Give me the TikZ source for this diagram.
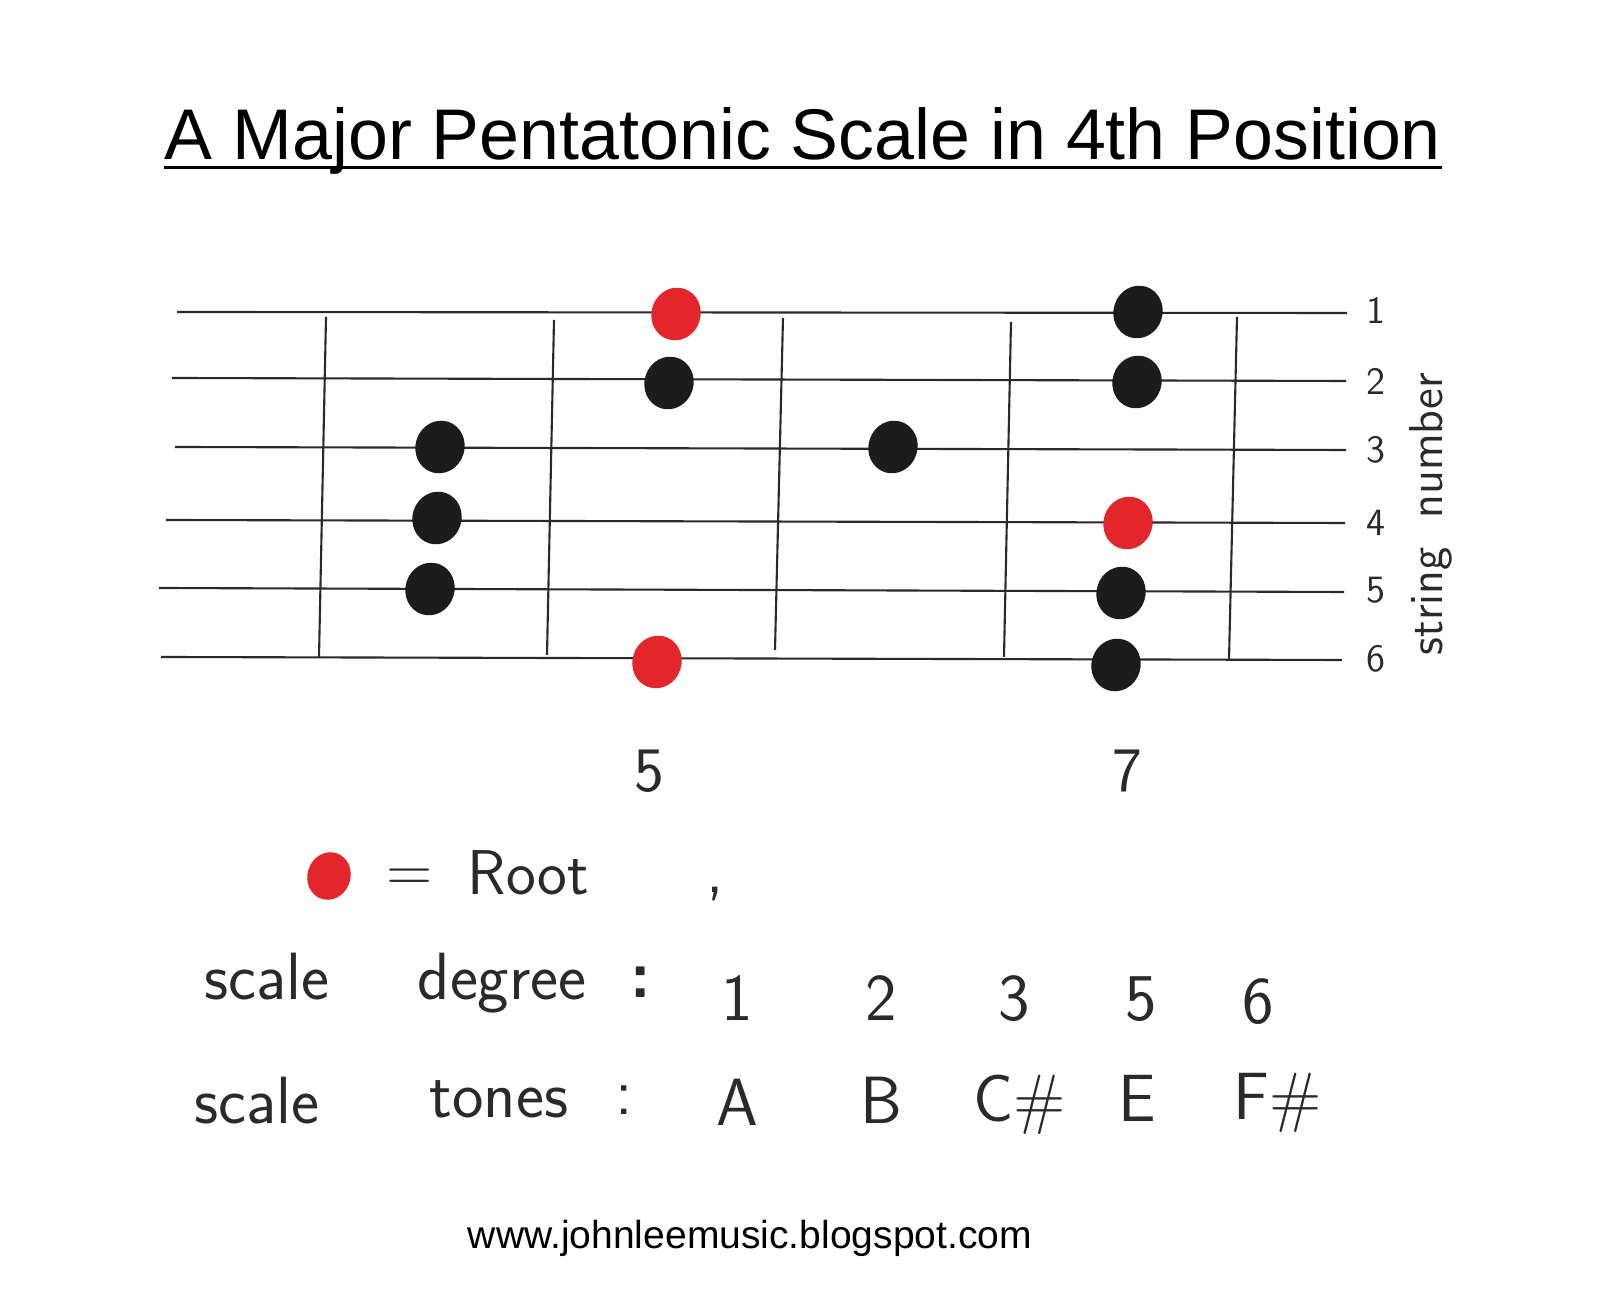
\documentclass[tikz,border=0pt]{standalone}
\usepackage{fontspec}
\setmainfont{Liberation Sans}
\usetikzlibrary{shapes.geometric,calc}
\definecolor{ink}{HTML}{2A2A2A}
\definecolor{rootred}{HTML}{E3262B}
\definecolor{dotblack}{HTML}{1C1C1C}
\begin{document}
\begin{tikzpicture}[x=0.01cm,y=-0.01cm,
  strline/.style={draw=ink,line width=0.6pt},
  fretline/.style={draw=ink,line width=0.6pt},
  notedot/.style={ellipse,inner sep=0pt,minimum width=0.49cm,minimum height=0.53cm,rotate=-18},
  blackdot/.style={notedot,fill=dotblack},
  reddot/.style={notedot,fill=rootred},
  hand/.style={inner sep=0pt,text=ink,font=\sffamily\fontsize{19}{19}\selectfont},
  snum/.style={inner sep=0pt,text=ink,font=\sffamily\fontsize{11}{11}\selectfont},
  printed/.style={inner sep=0pt,text=black}]
\useasboundingbox[fill=white] (0,0) rectangle (1620,1292);

% title
\node[printed,anchor=base,font=\fontsize{20.4}{24}\selectfont] (title) at (803,160) {A Major Pentatonic Scale in 4th Position};
\draw[line width=0.85pt] ($(title.base west)+(0,8)$) -- ($(title.base east)+(0,8)$);

% strings
\coordinate (sL1) at (177,312); \coordinate (sR1) at (1347,313);
\coordinate (sL2) at (172,378); \coordinate (sR2) at (1346,381);
\coordinate (sL3) at (175,447); \coordinate (sR3) at (1346,450);
\coordinate (sL4) at (166,520); \coordinate (sR4) at (1345,523);
\coordinate (sL5) at (159,588); \coordinate (sR5) at (1344,592);
\coordinate (sL6) at (161,657); \coordinate (sR6) at (1342,660);
\foreach \i in {1,...,6} {\draw[strline] (sL\i) -- (sR\i);}

% frets
\coordinate (fT1) at (326,317); \coordinate (fB1) at (319,657);
\coordinate (fT2) at (554,320); \coordinate (fB2) at (547,655);
\coordinate (fT3) at (783,318); \coordinate (fB3) at (775,650);
\coordinate (fT4) at (1011,322); \coordinate (fB4) at (1004,657);
\coordinate (fT5) at (1237,317); \coordinate (fB5) at (1229,660);
\foreach \i in {1,...,5} {\draw[fretline] (fT\i) -- (fB\i);}

% dots
\node[reddot]   (d1a) at (676,314) {};
\node[blackdot] (d2a) at (669,383) {};
\node[blackdot] (d3a) at (440,447) {};
\node[blackdot] (d4a) at (437,518) {};
\node[blackdot] (d5a) at (430,589) {};
\node[reddot]   (d6a) at (657,662) {};
\node[blackdot] (d3b) at (893,447) {};
\node[blackdot] (d1b) at (1138,312) {};
\node[blackdot] (d2b) at (1137,382) {};
\node[reddot]   (d4b) at (1128,523) {};
\node[blackdot] (d5b) at (1121,593) {};
\node[blackdot] (d6b) at (1116,665) {};

% string numbers
\node[snum] (n1) at (1376,310) {1};
\node[snum] (n2) at (1376,381) {2};
\node[snum] (n3) at (1376,450) {3};
\node[snum] (n4) at (1376,523) {4};
\node[snum] (n5) at (1376,590) {5};
\node[snum] (n6) at (1376,659) {6};
\node[hand,font=\sffamily\fontsize{13.5}{13.5}\selectfont,rotate=90] (snlabel) at (1431,514) {string\hspace{0.6em}number};

% fret numbers
\node[hand,font=\sffamily\fontsize{18}{18}\selectfont] (fn5) at (649,771) {5};
\node[hand,font=\sffamily\fontsize{18}{18}\selectfont] (fn7) at (1127,771) {7};

% legend
\node[reddot,minimum width=0.43cm,minimum height=0.48cm] (legdot) at (329,876) {};
\node[hand,font=\sffamily\fontsize{18}{18}\selectfont] (eq) at (410,880) {=};
\node[hand,anchor=base west,font=\sffamily\fontsize{18}{18}\selectfont] (root) at (467,895) {Root};
\node[hand,anchor=base] (comma) at (715,893) {,};

% scale degree row
\node[hand,anchor=base west] (sc1) at (204,1000) {scale};
\node[hand,anchor=base west] (deg) at (417,1000) {degree};
\node[hand,font=\sffamily\bfseries\fontsize{19}{19}\selectfont] (col1) at (641,982) {:};
\node[hand,anchor=base] (g1) at (737,1021) {1};
\node[hand,anchor=base] (g2) at (881,1021) {2};
\node[hand,anchor=base] (g3) at (1014,1021) {3};
\node[hand,anchor=base] (g5) at (1141,1021) {5};
\node[hand,anchor=base] (g6) at (1258,1024) {6};

% scale tones row
\node[hand,anchor=base west] (sc2) at (194,1124) {scale};
\node[hand,anchor=base west] (ton) at (429,1118) {tones};
\node[hand] (col2) at (624,1100) {:};
\node[hand,anchor=base] (tA) at (737,1126) {A};
\node[hand,anchor=base] (tB) at (881,1124) {B};
\node[hand,anchor=base] (tC) at (1020,1122) {C\#};
\node[hand,anchor=base] (tE) at (1137,1122) {E};
\node[hand,anchor=base] (tF) at (1278,1120) {F\#};

% url
\node[printed,font=\fontsize{11.1}{13}\selectfont] (url) at (750,1238) {www.johnleemusic.blogspot.com};
\end{tikzpicture}
\end{document}
